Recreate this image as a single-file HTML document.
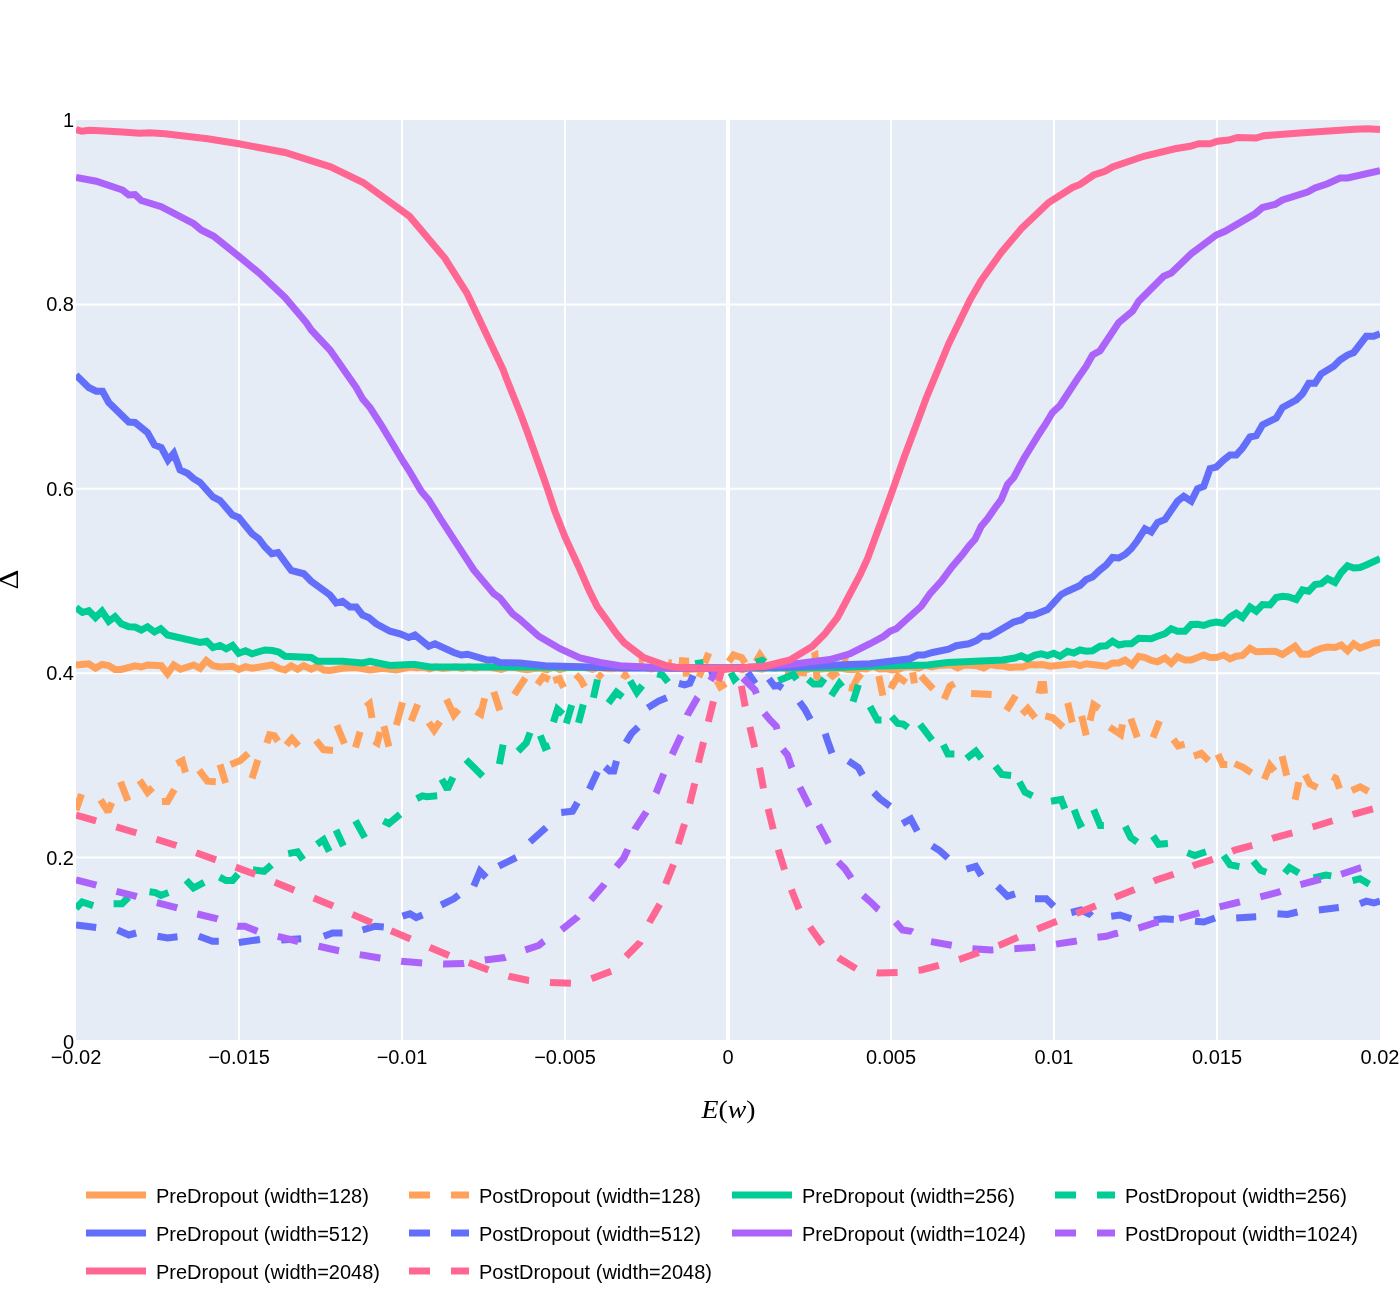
<!DOCTYPE html>
<html lang="en"><head><meta charset="utf-8"><title>Delta vs E(w)</title>
<style>
html,body{margin:0;padding:0;background:#fff;}
body{width:1400px;height:1300px;overflow:hidden;}
svg{display:block;}
.t{font-family:"Liberation Sans",sans-serif;font-size:20px;fill:#000;}
.m{font-family:"Liberation Serif","DejaVu Serif",serif;font-style:italic;fill:#000;}
.ln{fill:none;stroke-linejoin:miter;stroke-miterlimit:2;}
</style></head><body>
<svg width="1400" height="1300" viewBox="0 0 1400 1300">
<rect x="0" y="0" width="1400" height="1300" fill="#ffffff"/>
<defs><clipPath id="cp"><rect x="76" y="120" width="1304" height="922"/></clipPath></defs>
<rect x="76" y="120" width="1304" height="922" fill="#E5ECF6"/>
<g stroke="#ffffff" stroke-width="2" clip-path="url(#cp)">
<line x1="239.0" y1="120" x2="239.0" y2="1042"/>
<line x1="402.0" y1="120" x2="402.0" y2="1042"/>
<line x1="565.0" y1="120" x2="565.0" y2="1042"/>
<line x1="891.0" y1="120" x2="891.0" y2="1042"/>
<line x1="1054.0" y1="120" x2="1054.0" y2="1042"/>
<line x1="1217.0" y1="120" x2="1217.0" y2="1042"/>
<line x1="76" y1="857.6" x2="1380" y2="857.6"/>
<line x1="76" y1="673.2" x2="1380" y2="673.2"/>
<line x1="76" y1="488.8" x2="1380" y2="488.8"/>
<line x1="76" y1="304.4" x2="1380" y2="304.4"/>
</g>
<g stroke="#ffffff" stroke-width="4" clip-path="url(#cp)">
<line x1="728.0" y1="120" x2="728.0" y2="1042"/>
<line x1="76" y1="1042.0" x2="1380" y2="1042.0"/>
</g>
<g clip-path="url(#cp)">
<path class="ln" d="M76.00,665.00L88.75,663.75L95.50,668.25L102.00,664.50L108.75,665.50L115.00,669.50L121.25,669.50L135.00,665.75L141.25,667.00L147.50,665.00L161.25,665.75L167.50,673.75L173.75,665.00L180.50,669.25L193.75,665.00L200.00,668.25L206.25,660.50L213.00,665.75L220.00,667.00L232.50,666.25L238.75,669.50L245.50,666.75L252.00,668.25L272.00,665.00L278.75,668.25L285.00,670.00L291.25,665.75L297.50,669.25L303.75,665.75L311.25,669.25L317.50,666.25L323.75,670.00L330.00,670.50L342.50,668.25L356.25,667.50L370.00,670.00L382.50,668.25L396.25,670.00L410.00,667.00L416.50,667.74L423.02,667.18L429.54,668.78L436.06,666.93L442.58,668.41L449.10,667.87L455.62,666.89L462.14,668.32L468.66,666.82L475.18,668.09L481.70,666.92L488.22,666.99L494.74,668.06L501.26,669.35L507.78,667.10L514.30,667.41L520.82,668.71L527.34,669.73L533.86,668.55L540.38,667.97L546.90,669.82L553.42,666.85L559.94,669.45L566.46,667.63L572.98,667.16L579.50,667.08L586.02,667.69L592.54,669.31L599.06,667.28L605.58,668.56L612.10,668.74L618.62,667.89L625.14,668.45L631.66,666.90L638.18,666.89L644.70,667.36L651.22,668.88L657.74,668.07L664.26,667.71L670.78,668.57L677.30,668.15L683.82,667.66L690.34,669.24L696.86,668.94L703.38,667.48L709.90,668.54L716.42,668.38L722.94,669.50L729.46,669.03L735.98,667.62L742.50,669.84L749.02,667.08L755.54,668.04L762.06,669.12L768.58,667.19L775.10,668.26L781.62,666.83L788.14,668.84L794.66,669.15L801.18,668.53L807.70,669.50L814.22,667.70L820.74,668.92L827.26,668.60L833.78,668.56L840.30,668.16L846.82,669.39L853.34,669.72L859.86,668.22L866.38,668.83L872.90,666.31L879.42,669.01L885.94,668.66L892.46,670.06L898.98,669.19L905.50,666.70L912.02,667.03L918.54,668.15L925.06,665.19L931.58,667.00L938.10,665.59L944.62,665.25L951.14,664.87L957.66,667.87L964.18,664.94L970.70,665.34L977.22,665.85L983.74,667.85L990.26,664.25L996.78,665.75L1003.30,666.07L1009.82,667.42L1016.34,667.02L1022.86,667.10L1029.38,664.40L1035.90,664.89L1042.42,664.52L1050.00,666.25L1073.75,663.75L1080.00,665.50L1086.25,663.75L1106.25,666.25L1112.50,663.00L1118.75,663.00L1125.00,660.00L1132.00,665.00L1138.75,656.25L1145.00,657.50L1151.25,660.50L1157.50,661.75L1165.00,658.00L1171.25,663.25L1177.50,656.75L1185.00,660.00L1191.25,660.00L1203.75,655.00L1210.00,657.50L1216.25,657.50L1223.75,655.00L1230.00,658.75L1236.25,656.25L1242.50,655.50L1250.00,648.25L1256.25,651.75L1275.00,651.25L1282.50,654.50L1295.00,646.25L1301.25,654.25L1308.75,654.25L1315.00,650.75L1321.25,648.25L1327.50,647.00L1335.00,647.50L1341.25,645.00L1347.50,650.75L1353.75,643.75L1360.00,648.00L1373.75,643.00L1380.00,642.50" stroke="#FFA15A" stroke-width="7"/>
<path class="ln" d="M76.0,810.0L81.5,794.2M100.6,799.8L108.1,811.8L111.8,802.6M120.5,781.8L127.9,800.7M139.6,780.3L147.6,792.3L152.6,787.7M161.9,801.6L167.5,801.6L174.4,789.6M176.8,763.6L182.3,760.8L185.5,772.5M199.1,770.1L207.4,781.2L215.8,781.8M220.0,764.5L225.6,783.1M230.6,764.5L239.9,760.8L248.3,753.4M252.0,778.4L257.9,759.9M266.8,743.1L269.6,734.8L274.3,735.7L278.0,741.3M286.3,745.0L291.9,738.5L298.4,745.9M316.0,740.4L323.5,749.6L333.0,750.4M336.9,725.2L344.4,743.8M355.5,747.5L360.1,731.7M366.0,706.5L369.5,703.8L372.0,718.0M374.1,741.0L377.3,743.0L380.2,732.0M383.9,726.1L388.9,746.6M396.4,725.2L402.5,702.4M411.2,720.9L417.7,704.2M428.8,722.4L434.1,730.2L440.0,721.5M446.5,699.2L453.9,715.0L458.6,709.4M476.2,711.3L480.8,714.1L484.6,698.3M493.8,691.8L499.8,710.4M514.3,694.6L525.4,677.9M537.5,684.4L543.1,676.9L549.6,679.7M553.4,680.7L559.5,678.7L563.6,687.5M575.8,674.6L580.5,679.4L584.6,686.8M597.5,673.9L602.3,678.0M621.9,673.9L625.3,676.0L628.7,673.9M638.9,662.4L643.6,661.7M668.1,662.4L671.5,663.1M678.9,660.4L685.7,661.0L686.4,676.6M697.3,672.6L703.4,675.3M704.7,663.1L707.4,656.3L710.8,657.6M716.9,680.7L720.3,686.8L725.8,683.4M728.8,661.7L733.6,654.9L741.7,657.6L745.1,663.1M756.0,661.7L760.0,654.9L764.8,661.7M785.0,672.0L807.0,673.0M812.3,656.3L815.0,655.0L817.0,678.7L820.4,675.3M828.6,672.6L832.7,676.0L838.1,671.9M842.1,660.4L848.3,661.0M848.9,687.5L852.3,688.2L858.4,676.0L861.8,678.7M878.8,676.0L882.9,695.6M889.0,684.1L892.4,685.5L897.8,676.6L906.1,682.5M912.6,672.3L914.5,683.4M921.0,676.0L933.1,689.0M944.2,699.2L949.8,686.2L954.4,683.4M971.1,693.6L991.6,694.6M1006.4,710.4L1015.7,695.5M1022.2,714.1L1027.8,708.5L1035.2,717.8M1039.0,693.6L1040.8,684.4L1043.6,684.4L1044.5,693.6M1045.4,715.9L1052.8,717.8L1063.1,727.1M1067.7,702.9L1072.3,722.4M1081.6,715.9L1086.3,735.4M1090.0,720.6L1093.7,704.8L1099.3,708.5M1109.5,727.1L1120.6,734.5L1122.5,724.3M1130.8,718.7L1137.3,737.3M1153.0,737.6L1159.5,720.9M1173.4,739.4L1178.1,745.9L1184.6,744.1M1193.9,756.1L1201.3,753.4L1208.7,760.8M1218.0,754.3L1222.6,764.5L1227.3,764.5M1234.7,763.6L1243.1,767.3L1251.4,772.8M1264.4,779.3L1270.0,765.4L1274.6,771.0M1282.1,756.1L1286.7,775.6M1295.1,799.8L1298.8,782.1M1305.3,774.7L1309.9,784.0L1317.3,787.7M1332.2,776.6L1335.9,778.4L1339.6,788.6M1351.7,790.5L1360.1,786.8L1368.4,791.4" stroke="#FFA15A" stroke-width="7"/>
<path class="ln" d="M76.00,607.50L82.50,612.50L88.75,610.75L95.50,617.50L102.00,611.25L108.75,621.25L115.00,616.75L121.25,623.75L128.75,626.75L135.00,627.00L141.25,630.00L147.50,626.75L154.50,632.00L160.75,628.75L167.50,635.00L200.00,642.50L206.75,641.25L213.00,647.50L220.00,645.50L226.25,648.75L232.50,645.50L238.75,653.25L245.50,650.75L252.00,653.75L265.00,650.00L272.50,650.50L278.75,652.00L285.00,656.25L311.25,657.50L317.50,661.25L342.50,661.25L362.50,663.00L370.00,661.25L390.00,665.50L410.00,664.50L415.00,664.50L430.00,667.00L500.00,667.00L600.00,667.50L740.00,668.00L790.00,668.00L840.00,667.50L870.00,666.25L927.50,665.00L947.50,662.50L1002.50,660.00L1015.00,658.00L1021.25,655.75L1027.50,658.75L1035.00,655.00L1041.25,653.75L1047.50,655.50L1053.75,653.25L1060.00,656.25L1067.50,651.25L1073.75,653.00L1080.00,650.00L1086.25,651.25L1092.50,650.75L1100.00,646.25L1106.25,645.75L1112.50,641.25L1118.75,645.00L1125.00,643.75L1131.25,643.75L1138.75,638.25L1151.25,638.75L1157.50,636.25L1165.00,633.75L1171.25,628.75L1177.50,631.25L1185.00,631.25L1191.25,624.50L1197.50,624.25L1203.75,625.50L1210.00,623.25L1216.25,622.00L1223.75,623.25L1230.00,617.00L1236.25,613.25L1242.50,617.50L1250.00,607.00L1256.25,611.25L1262.50,604.50L1270.00,605.00L1276.25,597.50L1282.50,596.25L1288.75,597.00L1296.25,599.50L1302.50,590.00L1308.75,591.25L1315.00,584.50L1321.25,583.75L1327.50,578.75L1335.00,582.50L1341.25,572.50L1347.50,565.75L1353.75,568.00L1360.00,567.50L1366.25,565.00L1380.00,558.75" stroke="#00CC96" stroke-width="7"/>
<path class="ln" d="M75.9,908.4L82.1,901.9L93.2,905.6M113.6,903.8L122.0,903.8L128.5,897.3M149.5,891.7L155.4,892.6L161.0,895.4L168.4,892.6M186.1,880.2L193.5,888.0L204.1,882.4M219.5,877.2L226.0,880.6L232.5,880.6L238.1,874.1M252.9,869.8L264.1,871.3L271.5,864.8M288.2,853.6L297.5,851.8L303.1,859.8M317.0,844.3L323.5,839.7L329.3,851.5M336.0,830.1L343.4,845.9M355.5,820.8L364.8,837.6M383.4,820.8L388.9,823.6L400.1,814.3M416.8,798.6L422.4,795.8L427.0,796.7L437.2,795.8M441.8,779.1L447.4,789.3L453.0,777.2M466.0,759.6L482.7,776.3M499.4,764.2L503.1,744.7M518.0,751.2L526.3,742.9L530.1,732.6M540.3,735.4L544.9,747.5L549.6,745.6M553.4,722.1L557.5,709.2L562.9,714.0M566.3,723.5L571.7,705.1M578.5,722.8L583.3,704.5M593.4,697.7L597.5,679.4M608.4,703.1L616.5,692.3L622.6,697.0M630.1,680.7L636.9,692.3L642.3,685.5M657.2,673.9L662.7,675.3L668.1,682.1M695.2,663.8L703.4,662.4M730.9,672.6L734.3,679.4L737.6,676.6M756.0,662.4L762.1,660.4L764.8,662.4M778.4,680.7L793.3,674.6L796.7,679.4M808.2,679.4L813.7,684.1L820.4,684.1L824.5,678.7M831.3,695.6L839.4,683.4L842.2,686.8M853.0,701.8L858.4,684.8M870.0,706.5L877.4,720.1L881.5,720.1M891.7,716.7L897.8,723.5L903.2,724.1L908.0,727.5M920.1,724.3L932.1,740.1M943.3,744.7L947.9,754.0L954.4,754.0M966.5,758.6L975.8,751.2L981.4,758.6M995.3,766.1L1001.8,774.4L1011.1,775.4M1019.4,781.8L1025.0,792.1L1032.4,795.8M1051.0,801.3L1061.2,799.5L1064.9,808.8M1074.2,809.7L1079.8,824.6L1083.5,822.7M1093.7,809.7L1100.2,825.5L1103.9,825.5M1125.3,826.4L1130.8,837.6L1137.3,842.2M1153.0,836.0L1158.6,844.3L1167.9,843.4M1187.4,852.7L1194.8,855.5L1205.9,851.8M1223.6,855.5L1230.1,864.8L1239.4,866.6M1253.3,861.1L1260.7,870.3L1266.3,872.2M1284.8,873.1L1289.5,867.6L1298.8,873.1M1313.6,877.8L1325.7,875.0L1331.3,875.9M1352.6,880.6L1360.1,878.7L1369.3,884.3" stroke="#00CC96" stroke-width="7"/>
<path class="ln" d="M76.00,375.00L88.75,387.50L96.25,391.25L102.50,391.25L108.75,402.50L128.75,422.00L135.00,422.50L147.50,432.50L154.50,445.00L161.25,447.50L168.00,460.00L173.75,453.25L180.00,470.00L187.50,473.25L193.75,478.75L200.00,482.50L213.00,497.00L220.00,500.50L232.50,515.00L238.75,517.50L252.00,533.75L258.75,538.75L265.00,547.00L271.75,553.75L278.00,552.50L291.25,570.50L303.75,573.75L311.25,581.25L330.00,595.00L336.25,603.00L342.50,601.25L350.00,607.00L356.25,607.00L362.50,615.00L368.75,617.50L376.25,623.75L390.00,631.25L400.00,633.75L408.75,637.50L415.00,635.00L428.75,646.25L435.00,643.75L453.75,652.50L461.25,655.00L467.50,654.25L487.50,660.00L493.75,660.00L500.00,662.50L520.00,663.00L545.00,665.75L587.50,667.00L625.00,668.00L740.00,668.00L790.00,667.00L850.00,664.50L870.00,663.75L890.00,661.25L910.00,658.75L917.50,655.00L923.75,655.00L932.50,652.50L948.75,649.25L956.25,645.75L968.75,643.75L976.25,640.75L982.50,636.25L988.75,636.25L995.00,633.00L1013.75,622.00L1021.25,620.00L1027.50,615.50L1033.75,615.00L1047.50,609.50L1061.25,594.50L1067.50,591.25L1080.00,585.50L1086.25,579.50L1092.50,577.00L1100.00,570.00L1106.25,565.00L1112.50,557.50L1118.75,558.00L1125.00,554.50L1131.25,548.75L1137.50,540.50L1145.00,528.75L1151.25,532.00L1157.50,522.50L1165.00,519.50L1177.50,501.25L1183.75,496.25L1191.25,501.25L1197.50,488.75L1203.75,486.25L1210.00,468.75L1216.25,467.00L1223.75,460.00L1230.00,455.00L1236.25,455.00L1242.50,448.00L1250.00,437.00L1256.25,435.75L1262.50,425.00L1276.25,418.00L1282.50,407.50L1296.25,400.00L1302.50,393.75L1308.75,383.25L1315.00,383.25L1321.25,373.75L1333.75,366.25L1340.00,360.00L1347.50,355.00L1353.75,352.50L1366.25,336.25L1373.75,336.25L1380.00,333.75" stroke="#636EFA" stroke-width="7"/>
<path class="ln" d="M76.0,925.0L96.2,927.5M117.5,930.0L128.8,935.0L136.2,933.0M157.5,936.2L167.5,938.0L177.5,936.8M198.8,936.2L212.5,941.2L218.8,941.2M238.8,942.5L260.0,939.5M281.2,940.0L301.2,938.8M323.8,936.2L332.5,933.0L342.5,933.0M362.5,930.0L375.0,926.2L383.8,927.0M402.5,916.2L410.0,913.8L416.2,917.5L422.5,915.0M441.2,905.0L453.8,898.8L458.8,895.0M473.8,886.2L480.0,871.2L486.2,877.5M498.8,866.2L516.2,857.5M530.0,842.0L546.2,827.5M561.2,812.5L572.5,811.2L577.5,802.5M589.4,789.3L597.5,771.7M605.0,767.0L609.7,771.0L613.8,771.0L616.5,760.8M626.0,742.5L631.4,733.6L638.2,726.9M647.7,707.9L658.6,701.1L666.7,697.7M678.9,683.4L684.4,684.8L689.8,683.4L693.2,675.3M708.8,673.9L712.9,672.6M747.8,672.6L755.3,683.4M768.9,678.7L774.3,686.1L778.4,685.5L782.4,688.2M799.4,701.8L804.8,709.2L810.3,719.4M825.2,733.6L827.9,741.8L832.0,753.3M848.3,760.8L858.4,767.6L862.5,775.0M873.8,792.5L880.0,798.8L890.0,806.2M902.4,823.6L910.8,819.0L917.3,831.1M932.1,845.9L939.6,850.6L947.9,858.0M966.5,869.1L975.8,866.3L981.4,875.6M997.5,886.2L1007.5,896.2L1015.0,893.8M1035.0,898.8L1046.2,898.8L1053.8,906.2M1071.2,912.5L1081.2,910.0L1088.8,913.8L1091.5,911.0M1111.2,916.2L1120.0,915.0L1131.2,918.8M1153.8,920.0L1163.8,918.8L1173.8,919.5M1195.0,921.2L1203.8,922.0L1215.0,918.0M1236.2,918.0L1256.2,916.8M1277.5,913.8L1287.5,914.5L1297.5,912.0M1318.8,910.0L1338.8,907.5M1360.0,903.8L1366.2,901.2L1373.8,903.0L1380.0,901.2" stroke="#636EFA" stroke-width="7"/>
<path class="ln" d="M76.00,177.50L96.25,181.25L122.50,190.00L128.75,195.00L135.00,194.50L141.25,200.50L161.25,206.75L193.75,223.75L201.25,230.00L213.75,236.25L238.75,256.25L260.00,273.75L285.00,297.50L306.25,322.50L311.25,330.00L330.00,350.00L356.25,387.50L362.50,398.75L370.00,407.50L381.25,425.00L403.75,462.50L408.75,470.00L421.25,491.25L428.75,500.00L441.25,520.00L473.75,570.00L493.75,593.75L500.00,598.00L512.50,613.75L520.00,619.50L538.75,636.25L560.00,648.75L580.00,658.00L600.00,662.50L620.00,665.75L645.00,667.00L675.00,668.00L740.00,668.00L790.00,664.50L830.00,659.50L850.00,653.75L870.00,643.75L883.75,636.25L890.00,631.25L896.25,628.75L903.75,622.00L921.25,606.25L930.00,593.75L941.25,581.25L952.50,566.25L962.50,554.50L968.75,546.25L975.00,539.25L981.25,526.25L987.50,518.75L995.00,508.00L1001.25,499.50L1007.50,484.50L1013.75,477.50L1023.75,458.75L1040.00,432.50L1045.00,425.00L1052.50,412.50L1060.00,405.50L1077.50,378.75L1086.25,366.25L1092.50,355.00L1100.00,350.75L1118.75,322.50L1132.50,311.25L1138.75,301.25L1163.75,276.25L1171.25,273.00L1191.25,253.75L1216.25,235.00L1225.00,231.25L1255.00,213.75L1262.50,207.50L1275.00,204.50L1282.50,200.00L1307.50,192.00L1315.00,188.00L1327.50,183.75L1340.00,178.00L1347.50,178.00L1380.00,170.75" stroke="#AB63FA" stroke-width="7"/>
<path class="ln" d="M76.00,880.00L96.25,885.00L116.25,891.25L136.25,896.25L156.25,902.50L176.25,907.50L196.25,913.75L217.50,918.75L237.50,926.25L245.00,926.25L257.50,931.25L277.50,936.25L297.50,941.25L318.75,946.25L338.75,950.75L358.75,954.50L380.00,958.00L401.25,961.25L422.50,963.00L443.75,964.00L463.75,963.50L485.00,960.00L505.00,957.50L525.00,950.00L538.75,945.50L543.75,941.25L561.25,930.00L577.50,917.00L590.00,901.00L603.75,885.00L616.25,867.00L623.75,858.00L627.50,850.00L635.00,829.00L646.25,812.00L656.25,792.50L663.75,773.75L672.50,753.75L681.25,735.00L687.50,715.00L697.50,697.50L710.00,681.25L716.25,671.25L728.00,667.00L740.00,675.00L755.00,690.00L763.75,712.50L770.00,720.00L776.25,726.25L781.25,747.50L787.50,755.00L791.25,766.25L798.75,785.00L808.75,805.00L817.50,822.50L827.50,841.25L836.25,860.00L845.00,868.75L850.00,876.25L861.25,893.75L872.50,903.75L877.50,908.75L893.75,920.00L902.50,930.00L911.25,931.25L928.75,941.25L950.00,945.00L971.25,948.75L991.25,950.00L1012.50,948.75L1032.50,947.50L1053.75,944.50L1075.00,941.25L1095.00,937.50L1106.25,936.25L1115.00,933.75L1136.25,928.75L1156.25,922.50L1177.50,918.75L1196.25,913.75L1217.50,907.50L1237.50,902.50L1257.50,897.50L1277.50,892.50L1298.75,885.00L1317.50,880.00L1338.75,875.00L1357.50,868.75L1380.00,862.50" stroke="#AB63FA" stroke-width="7" stroke-dasharray="21,21"/>
<path class="ln" d="M76.00,129.50L82.00,131.30L89.00,130.30L100.00,130.80L118.60,131.80L140.00,133.20L150.00,132.80L165.00,133.75L207.50,138.75L238.75,143.75L285.00,152.50L330.60,166.80L363.10,182.50L409.60,216.40L444.80,258.10L467.10,293.40L503.30,370.00L506.00,377.50L520.00,412.50L527.50,432.50L540.00,467.50L546.60,486.30L555.00,511.50L565.20,537.50L578.60,566.50L589.60,591.40L597.30,606.90L616.60,633.90L624.30,642.90L643.60,657.60L665.40,665.40L675.70,667.30L701.40,668.20L740.00,668.00L765.00,666.25L790.00,660.00L812.50,646.25L825.00,633.75L837.50,617.50L860.00,575.00L867.50,558.75L890.00,497.50L905.00,455.00L916.25,425.00L926.25,398.00L948.75,343.75L970.00,300.00L981.25,280.50L1001.25,252.50L1021.25,228.75L1048.75,202.50L1072.50,187.50L1080.00,184.50L1093.75,175.00L1105.00,171.25L1112.50,167.00L1143.75,156.25L1175.00,148.75L1190.00,146.25L1198.75,143.75L1210.00,143.75L1217.50,141.25L1228.75,140.00L1237.50,137.50L1256.25,138.00L1263.75,135.75L1296.25,133.25L1325.00,131.25L1355.00,129.25L1367.50,128.75L1380.00,129.50" stroke="#FF6692" stroke-width="7"/>
<path class="ln" d="M76.00,815.00L135.00,832.50L176.25,845.50L216.25,860.00L255.00,874.25L293.75,890.00L332.50,905.75L371.25,922.50L410.00,938.75L430.00,947.50L450.00,956.00L468.75,962.50L488.75,970.00L508.75,976.25L528.75,980.50L550.00,982.50L571.25,983.25L591.25,978.75L611.25,971.25L626.25,956.25L640.00,942.50L650.00,921.25L660.00,903.75L666.25,882.50L673.75,863.75L678.75,842.50L685.00,822.50L690.00,802.50L695.00,782.50L698.75,761.25L703.75,741.25L708.75,720.00L713.75,700.00L715.00,694.00L721.50,670.50L728.00,668.00L734.50,670.00L741.00,684.00L745.20,706.25L750.00,727.50L755.00,748.75L760.00,770.00L763.75,790.00L768.75,811.25L773.75,831.25L778.75,851.25L785.00,871.25L792.50,892.50L800.00,911.25L811.25,928.75L823.75,946.25L840.00,958.75L856.25,968.75L878.75,973.00L898.75,972.50L921.25,970.00L940.00,965.00L961.25,958.75L980.00,952.00L1001.25,944.50L1020.00,936.25L1040.00,928.00L1058.75,920.50L1078.75,912.50L1097.50,905.00L1117.50,896.25L1136.25,888.75L1156.25,880.00L1175.00,873.75L1195.00,865.00L1215.00,858.75L1235.00,850.00L1253.75,845.00L1275.00,837.50L1293.75,832.50L1315.00,826.25L1335.00,820.00L1355.00,813.75L1380.00,807.00" stroke="#FF6692" stroke-width="7" stroke-dasharray="21,21"/>
</g>
<text class="t" x="76.0" y="1064" text-anchor="middle">−0.02</text>
<text class="t" x="239.0" y="1064" text-anchor="middle">−0.015</text>
<text class="t" x="402.0" y="1064" text-anchor="middle">−0.01</text>
<text class="t" x="565.0" y="1064" text-anchor="middle">−0.005</text>
<text class="t" x="728.0" y="1064" text-anchor="middle">0</text>
<text class="t" x="891.0" y="1064" text-anchor="middle">0.005</text>
<text class="t" x="1054.0" y="1064" text-anchor="middle">0.01</text>
<text class="t" x="1217.0" y="1064" text-anchor="middle">0.015</text>
<text class="t" x="1380.0" y="1064" text-anchor="middle">0.02</text>
<text class="t" x="74" y="1049.0" text-anchor="end">0</text>
<text class="t" x="74" y="864.6" text-anchor="end">0.2</text>
<text class="t" x="74" y="680.2" text-anchor="end">0.4</text>
<text class="t" x="74" y="495.8" text-anchor="end">0.6</text>
<text class="t" x="74" y="311.4" text-anchor="end">0.8</text>
<text class="t" x="74" y="127.0" text-anchor="end">1</text>
<text class="m" x="728.6" y="1118.2" text-anchor="middle" font-size="25.5" textLength="54" lengthAdjust="spacingAndGlyphs">E<tspan font-style="normal">(</tspan>w<tspan font-style="normal">)</tspan></text>
<text x="0" y="0" text-anchor="middle" font-family="'Liberation Serif','DejaVu Serif',serif" font-size="28" fill="#000" transform="translate(18.4,579.7) rotate(-90) scale(1.1,1)">Δ</text>
<path class="ln" d="M86,1195L146,1195" stroke="#FFA15A" stroke-width="7"/>
<text class="t" x="156" y="1202.5">PreDropout (width=128)</text>
<path class="ln" d="M409,1195L469,1195" stroke="#FFA15A" stroke-width="7" stroke-dasharray="21,21"/>
<text class="t" x="479" y="1202.5">PostDropout (width=128)</text>
<path class="ln" d="M732,1195L792,1195" stroke="#00CC96" stroke-width="7"/>
<text class="t" x="802" y="1202.5">PreDropout (width=256)</text>
<path class="ln" d="M1055,1195L1115,1195" stroke="#00CC96" stroke-width="7" stroke-dasharray="21,21"/>
<text class="t" x="1125" y="1202.5">PostDropout (width=256)</text>
<path class="ln" d="M86,1233L146,1233" stroke="#636EFA" stroke-width="7"/>
<text class="t" x="156" y="1240.5">PreDropout (width=512)</text>
<path class="ln" d="M409,1233L469,1233" stroke="#636EFA" stroke-width="7" stroke-dasharray="21,21"/>
<text class="t" x="479" y="1240.5">PostDropout (width=512)</text>
<path class="ln" d="M732,1233L792,1233" stroke="#AB63FA" stroke-width="7"/>
<text class="t" x="802" y="1240.5">PreDropout (width=1024)</text>
<path class="ln" d="M1055,1233L1115,1233" stroke="#AB63FA" stroke-width="7" stroke-dasharray="21,21"/>
<text class="t" x="1125" y="1240.5">PostDropout (width=1024)</text>
<path class="ln" d="M86,1271L146,1271" stroke="#FF6692" stroke-width="7"/>
<text class="t" x="156" y="1278.5">PreDropout (width=2048)</text>
<path class="ln" d="M409,1271L469,1271" stroke="#FF6692" stroke-width="7" stroke-dasharray="21,21"/>
<text class="t" x="479" y="1278.5">PostDropout (width=2048)</text>
</svg></body></html>
